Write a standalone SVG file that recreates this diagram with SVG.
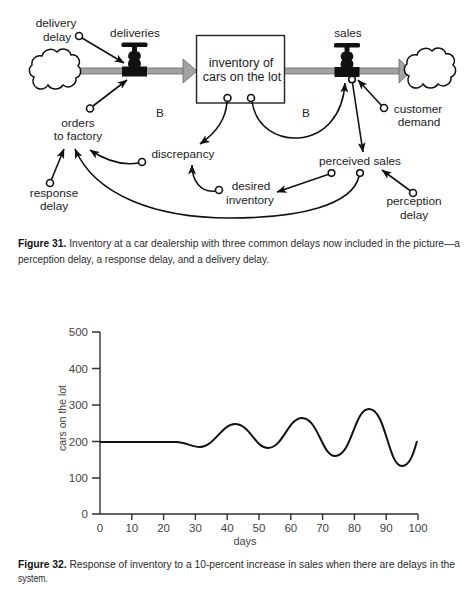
<svg xmlns="http://www.w3.org/2000/svg" width="474" height="594" viewBox="0 0 474 594">
<style>
.t{font-family:"Liberation Sans",Arial,sans-serif;font-size:11.8px;fill:#222;text-anchor:middle}
.bx{font-size:12.5px}
.cap{font-family:"Liberation Sans",Arial,sans-serif;font-size:10.5px;fill:#2a2a2a}
.b{font-weight:bold;fill:#111}
.ax{font-family:"Liberation Sans",Arial,sans-serif;font-size:11.5px;fill:#444}
.lk{fill:none;stroke:#111;stroke-width:1.6}
.pt{fill:#fff;stroke:#111;stroke-width:1.6}
.pipe{fill:#a3a3a3;stroke:#666;stroke-width:0.8}
.cl{fill:#fff;stroke:#111;stroke-width:1.5}
.axl{fill:none;stroke:#333;stroke-width:1.4}
</style>
<defs>
<marker id="ah" viewBox="0 0 10 8" refX="9.5" refY="4" markerWidth="10" markerHeight="8" orient="auto" markerUnits="userSpaceOnUse">
<path d="M0,0 L10,4 L0,8 L2.5,4 Z" fill="#111"/>
</marker>
<g id="valve" fill="#111">
<rect x="-13" y="-29" width="26" height="4.5" rx="1.5"/>
<rect x="-2.5" y="-26" width="5" height="8"/>
<path d="M-4,-20 C-7,-18 -7,-13 -4.5,-12 C-7,-10 -7,-6 -5,-4 L5,-4 C7,-6 7,-10 4.5,-12 C7,-13 7,-18 4,-20 Z"/>
<rect x="-12.5" y="-5" width="25" height="10"/>
</g>
<path id="cloud" d="M34,77 a7,7 0 0 1 -2,-12 a8,8 0 0 1 10,-9 a9,9 0 0 1 15,-4 a8,8 0 0 1 14,3 a7,7 0 0 1 7,11 a7,7 0 0 1 -2,12 a8,8 0 0 1 -13,7 a9,9 0 0 1 -15,0 a8,8 0 0 1 -14,-8 Z"/>
</defs>
<rect width="474" height="594" fill="#fff"/>

<g id="pipes">
<rect class="pipe" x="76" y="68" width="108" height="6"/>
<polygon class="pipe" points="183,59 197,71 183,83"/>
<rect class="pipe" x="284" y="68" width="116" height="6"/>
<polygon class="pipe" points="399,59 411,71 399,83"/>
</g>
<g id="source-cloud"><use href="#cloud" class="cl"/></g>
<g id="sink-cloud"><use href="#cloud" class="cl" transform="translate(375,-1)"/></g>

<g id="deliveries">
<use href="#valve" transform="translate(134.5,71.5)"/>
<text class="t" x="135" y="37">deliveries</text>
</g>
<g id="sales">
<use href="#valve" transform="translate(347,72)"/>
<text class="t" x="348" y="37">sales</text>
<circle class="pt" cx="352" cy="79.5" r="3.3"/>
</g>
<g id="inventory">
<rect x="196.5" y="35.5" width="88" height="67.5" fill="#fff" stroke="#222" stroke-width="1.4"/>
<text class="t bx" x="241" y="66.5">inventory of</text>
<text class="t bx" x="242" y="80.5">cars on the lot</text>
<circle class="pt" cx="227.5" cy="98" r="3.5"/>
<circle class="pt" cx="251" cy="98" r="3.5"/>
</g>
<g id="delivery-delay">
<text class="t" x="56" y="27">delivery</text>
<text class="t" x="57" y="41">delay</text>
<circle class="pt" cx="79" cy="36" r="3.5"/>
</g>
<g id="orders-to-factory">
<text class="t" x="78" y="126.5">orders</text>
<text class="t" x="78" y="140">to factory</text>
<circle class="pt" cx="90" cy="108.5" r="3.5"/>
</g>
<g id="customer-demand">
<circle class="pt" cx="384" cy="108" r="3.5"/>
<text class="t" x="418" y="112.5">customer</text>
<text class="t" x="419" y="126">demand</text>
</g>
<g id="discrepancy">
<text class="t" x="183" y="158">discrepancy</text>
<circle class="pt" cx="142" cy="162" r="3.5"/>
</g>
<g id="desired-inventory">
<text class="t" x="251" y="190">desired</text>
<text class="t" x="250" y="203.5">inventory</text>
<circle class="pt" cx="219" cy="190" r="3.5"/>
</g>
<g id="perceived-sales">
<text class="t" x="360" y="165">perceived sales</text>
<circle class="pt" cx="331.5" cy="173" r="3.3"/>
<circle class="pt" cx="360" cy="173" r="3.3"/>
</g>
<g id="response-delay">
<circle class="pt" cx="50" cy="183" r="3.5"/>
<text class="t" x="54" y="196.5">response</text>
<text class="t" x="54" y="210">delay</text>
</g>
<g id="perception-delay">
<circle class="pt" cx="413" cy="193" r="3.5"/>
<text class="t" x="414" y="205">perception</text>
<text class="t" x="414" y="218.5">delay</text>
</g>
<g id="loop-labels">
<text class="t" x="160" y="117">B</text>
<text class="t" x="306" y="117">B</text>
</g>

<g id="connectors">
<path class="lk" marker-end="url(#ah)" d="M82,38 L124,63"/>
<path class="lk" marker-end="url(#ah)" d="M93,106 L127,80"/>
<path class="lk" marker-end="url(#ah)" d="M227,101.5 C226,122 213,135 200,144"/>
<path class="lk" marker-end="url(#ah)" d="M252,101.5 C256,128 278,139 298,138 C325,136 343,115 345,83"/>
<path class="lk" marker-end="url(#ah)" d="M352.5,83 L363,152"/>
<path class="lk" marker-end="url(#ah)" d="M381.5,105.5 L358,80"/>
<path class="lk" marker-end="url(#ah)" d="M328,174.5 L277,192"/>
<path class="lk" marker-end="url(#ah)" d="M359,176.5 C352,205 300,218 230,218 C155,218 95,195 75,149"/>
<path class="lk" marker-end="url(#ah)" d="M215.5,191 C201,193 192,181 192,165"/>
<path class="lk" marker-end="url(#ah)" d="M138.5,163 C121,166 105,160 90,150"/>
<path class="lk" marker-end="url(#ah)" d="M51.5,179.5 L64,149"/>
<path class="lk" marker-end="url(#ah)" d="M410,190.5 L382,170"/>
</g>

<g id="caption-31">
<text class="cap" x="18" y="247" textLength="442" lengthAdjust="spacingAndGlyphs"><tspan class="b">Figure 31.</tspan> Inventory at a car dealership with three common delays now included in the picture—a</text>
<text class="cap" x="18" y="263" textLength="251" lengthAdjust="spacingAndGlyphs">perception delay, a response delay, and a delivery delay.</text>
</g>

<g id="chart">
<path class="axl" d="M100,332 V514 H418"/>
<path class="axl" d="M92,332 H100 M92,368.5 H100 M92,405 H100 M92,441.5 H100 M92,478 H100 M92,514 H100"/>
<path class="axl" d="M131.8,514 V520 M163.6,514 V520 M195.4,514 V520 M227.2,514 V520 M259,514 V520 M290.8,514 V520 M322.6,514 V520 M354.4,514 V520 M386.2,514 V520 M418,514 V520"/>
<g class="ax" text-anchor="end">
<text x="88" y="336">500</text>
<text x="88" y="372.5">400</text>
<text x="88" y="409">300</text>
<text x="88" y="445.5">200</text>
<text x="88" y="482">100</text>
<text x="88" y="518">0</text>
</g>
<g class="ax" text-anchor="middle">
<text x="100" y="532">0</text>
<text x="131.8" y="532">10</text>
<text x="163.6" y="532">20</text>
<text x="195.4" y="532">30</text>
<text x="227.2" y="532">40</text>
<text x="259" y="532">50</text>
<text x="290.8" y="532">60</text>
<text x="322.6" y="532">70</text>
<text x="354.4" y="532">80</text>
<text x="386.2" y="532">90</text>
<text x="418" y="532">100</text>
<text x="245" y="545" font-size="11px">days</text>
<text x="0" y="0" font-size="10.5px" transform="translate(66,418) rotate(-90)">cars on the lot</text>
</g>
<path d="M100,442 L176,442 C186,442 191,447 200,447 C214,447 222,424 235,424 C250,424 255,448 268,448 C283,448 288,418 302,418 C318,418 322,456 335,456 C352,456 354,409 369,409 C386,409 388,466 402,466 C410,466 414,452 417,441" fill="none" stroke="#111" stroke-width="2"/>
</g>

<g id="caption-32">
<text class="cap" x="18" y="568" textLength="437" lengthAdjust="spacingAndGlyphs"><tspan class="b">Figure 32.</tspan> Response of inventory to a 10-percent increase in sales when there are delays in the</text>
<text class="cap" x="18" y="582" textLength="30" lengthAdjust="spacingAndGlyphs">system.</text>
</g>
</svg>
